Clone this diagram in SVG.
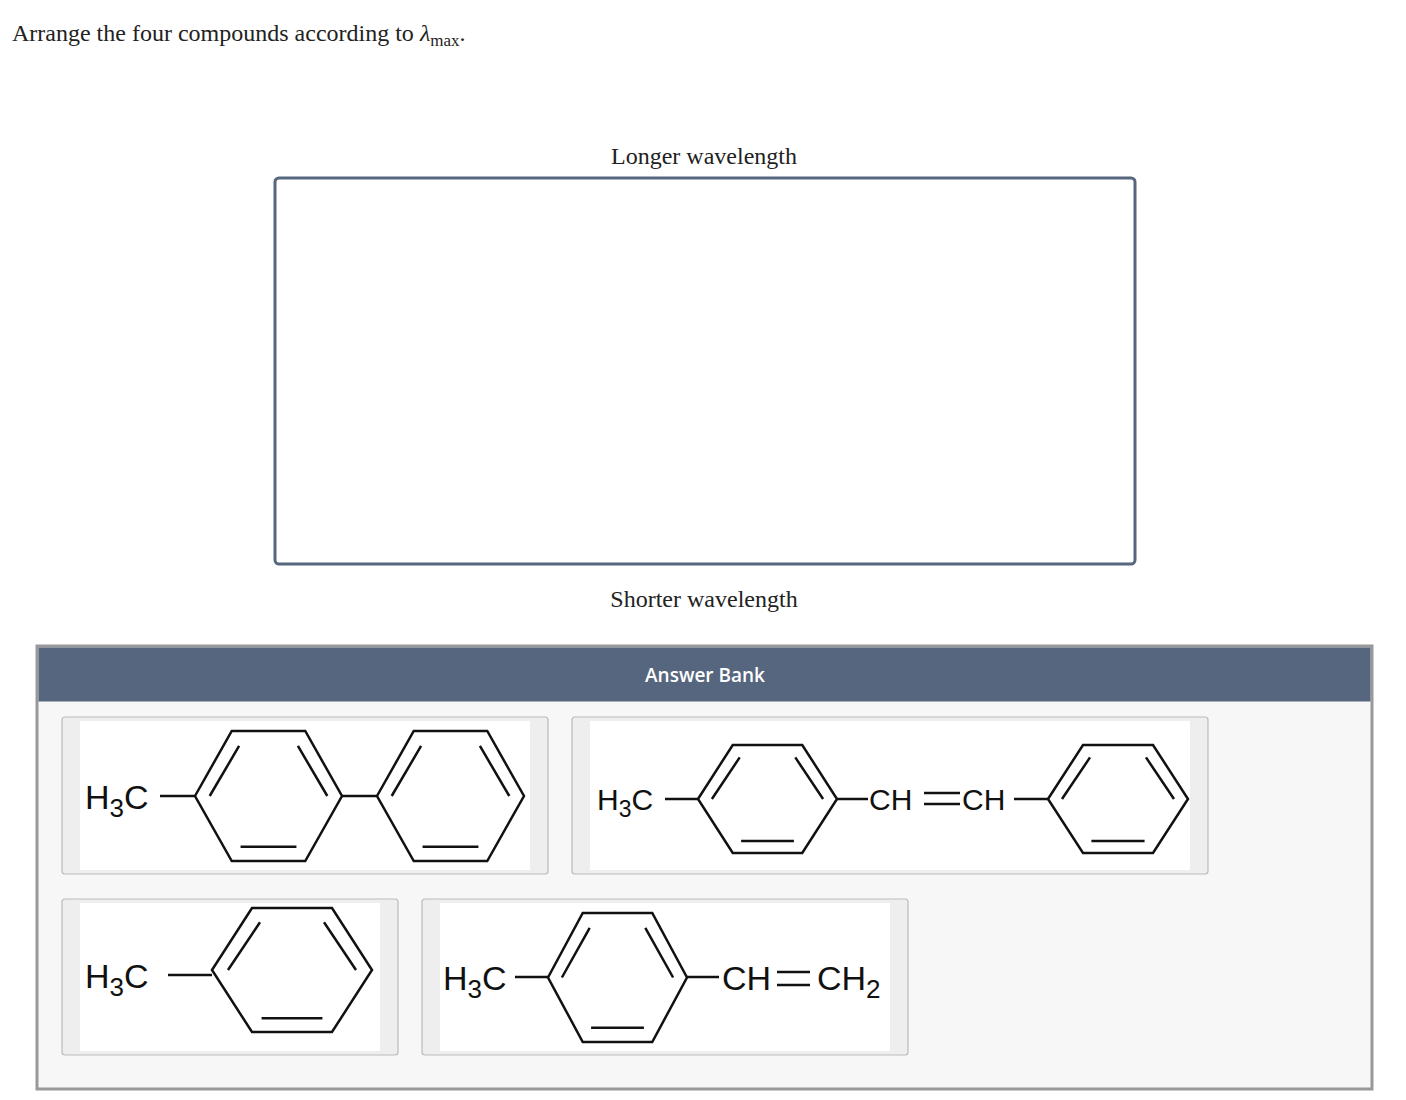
<svg xmlns="http://www.w3.org/2000/svg" xmlns:xlink="http://www.w3.org/1999/xlink" width="1406" height="1100" viewBox="0 0 1406 1100">
<style>
.serif{font-family:"Liberation Serif","Times New Roman",serif;font-size:24px;fill:#222}
.chem{font-family:"Liberation Sans",Arial,sans-serif;fill:#111}
.b{stroke:#111;stroke-width:2.5;fill:none;vector-effect:non-scaling-stroke}
.card{fill:#eeeeee;stroke:#bbbbbb;stroke-width:1.2}
</style>
<defs>
<g id="ring">
<polygon class="b" points="0,50 25,0 75,0 100,50 75,100 25,100"/>
<path class="b" d="M30,11.5 L10,50 M70,11.5 L90,50 M31,89 L69,89"/>
</g>
<linearGradient id="side" x1="0" x2="1"><stop offset="0" stop-color="#e4e4e4"/><stop offset="0.5" stop-color="#f6f6f6"/><stop offset="1" stop-color="#e4e4e4"/></linearGradient>
</defs>
<rect width="1406" height="1100" fill="#fff"/>
<text class="serif" x="12" y="41">Arrange the four compounds according to <tspan font-style="italic">λ</tspan><tspan font-size="17" dy="5">max</tspan><tspan dy="-5">.</tspan></text>
<g id="dropzone">
<text class="serif" x="704" y="164" text-anchor="middle">Longer wavelength</text>
<rect x="275" y="178" width="860" height="386" rx="4" fill="#fff" stroke="#56667e" stroke-width="3"/>
<text class="serif" x="704" y="607" text-anchor="middle">Shorter wavelength</text>
</g>
<g id="answerbank">
<rect x="37" y="646" width="1335" height="443" fill="#f7f7f7" stroke="#999" stroke-width="3"/>
<rect x="38.5" y="647.5" width="1332" height="54" fill="#56667e"/>
<text x="705" y="682" text-anchor="middle" font-family="'Open Sans','Noto Sans',sans-serif" font-size="19" font-weight="600" fill="#fff">Answer Bank</text>
</g>
<g id="c1">
<rect class="card" x="62" y="717" width="486" height="157" rx="3" fill="url(#side)"/>
<rect x="80" y="721" width="450" height="149" fill="#fff"/>
<text class="chem" x="85" y="809" font-size="34">H<tspan font-size="26" dy="8">3</tspan><tspan dy="-8">C</tspan></text>
<line class="b" x1="160" y1="796" x2="195" y2="796"/>
<use xlink:href="#ring" transform="translate(195,731) scale(1.47,1.30)"/>
<line class="b" x1="342" y1="796" x2="377" y2="796"/>
<use xlink:href="#ring" transform="translate(377,731) scale(1.47,1.30)"/>
</g>
<g id="c2">
<rect class="card" x="572" y="717" width="636" height="157" rx="3" fill="url(#side)"/>
<rect x="590" y="721" width="600" height="149" fill="#fff"/>
<text class="chem" x="597" y="810" font-size="30">H<tspan font-size="23" dy="7">3</tspan><tspan dy="-7">C</tspan></text>
<line class="b" x1="665" y1="799" x2="698" y2="799"/>
<use xlink:href="#ring" transform="translate(698,745) scale(1.39,1.08)"/>
<line class="b" x1="837" y1="799" x2="868" y2="799"/>
<text class="chem" x="869" y="810" font-size="30">CH</text>
<path class="b" d="M924,793 H960 M924,804 H960"/>
<text class="chem" x="962" y="810" font-size="30">CH</text>
<line class="b" x1="1014" y1="799" x2="1048" y2="799"/>
<use xlink:href="#ring" transform="translate(1048,745) scale(1.40,1.08)"/>
</g>
<g id="c3">
<rect class="card" x="62" y="899" width="336" height="156" rx="3" fill="url(#side)"/>
<rect x="80" y="903" width="300" height="148" fill="#fff"/>
<text class="chem" x="85" y="988" font-size="34">H<tspan font-size="26" dy="8">3</tspan><tspan dy="-8">C</tspan></text>
<line class="b" x1="168" y1="975" x2="212" y2="975"/>
<use xlink:href="#ring" transform="translate(212,908) scale(1.60,1.24)"/>
</g>
<g id="c4">
<rect class="card" x="422" y="899" width="486" height="156" rx="3" fill="url(#side)"/>
<rect x="440" y="903" width="450" height="148" fill="#fff"/>
<text class="chem" x="443" y="990" font-size="34">H<tspan font-size="26" dy="8">3</tspan><tspan dy="-8">C</tspan></text>
<line class="b" x1="515" y1="977" x2="548" y2="977"/>
<use xlink:href="#ring" transform="translate(548,913) scale(1.39,1.29)"/>
<line class="b" x1="687" y1="977" x2="719" y2="977"/>
<text class="chem" x="722" y="990" font-size="34">CH</text>
<path class="b" d="M777,972 H810 M777,985 H810"/>
<text class="chem" x="817" y="990" font-size="34">CH<tspan font-size="26" dy="8">2</tspan></text>
</g>
</svg>
